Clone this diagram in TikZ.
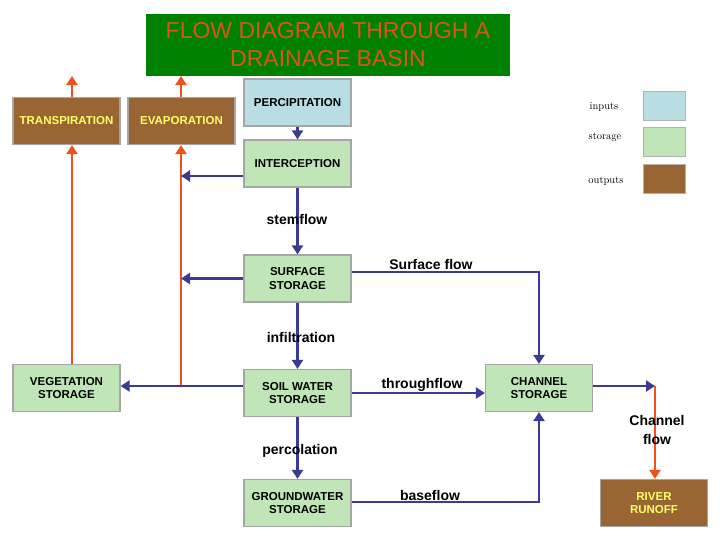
\documentclass[tikz,border=0pt]{standalone}
\usepackage{fontspec}
\setmainfont{Liberation Sans}
\usetikzlibrary{arrows.meta}
\definecolor{brn}{HTML}{996633}
\definecolor{lblue}{HTML}{B8DEE4}
\definecolor{lgreen}{HTML}{C0E6B8}
\definecolor{ttl}{HTML}{008000}
\definecolor{ttltxt}{HTML}{D8561A}
\definecolor{ylw}{HTML}{FFFF66}
\definecolor{blu}{HTML}{3B3B96}
\definecolor{org}{HTML}{F0501E}
\tikzset{
 box/.style={draw=black!35,line width=1.2pt,minimum width=107pt,minimum height=47pt,align=center,font=\bfseries\fontsize{11.5}{13.5}\selectfont,inner sep=1pt},
 inp/.style={box,fill=lblue},
 sto/.style={box,fill=lgreen},
 outp/.style={box,fill=brn,text=ylw},
 ba/.style={draw=blu,line width=2.5pt,-{Triangle[length=9pt,width=11pt]}},
 oa/.style={draw=org,line width=2.5pt,-{Triangle[length=9pt,width=11pt]}},
 lbl/.style={font=\bfseries\fontsize{14}{16}\selectfont},
 leg/.style={font=\fontfamily{lmr}\fontsize{10.5}{12}\selectfont}
}
\begin{document}
\begin{tikzpicture}[x=1pt,y=-1pt]
\useasboundingbox (0,0) rectangle (728,546);
\node[fill=ttl,minimum width=364pt,minimum height=62pt,align=center,text=ttltxt,font=\fontsize{23}{28}\selectfont] (title) at (328,45) {FLOW DIAGRAM THROUGH A\\DRAINAGE BASIN};
\node[outp] (tr) at (66.5,121) {TRANSPIRATION};
\node[outp] (ev) at (181.5,121) {EVAPORATION};
\node[inp] (pe) at (297.5,102.5) {PERCIPITATION};
\node[sto] (in) at (297.5,163.5) {INTERCEPTION};
\node[sto] (su) at (297.5,278.5) {SURFACE\\STORAGE};
\node[sto] (so) at (297.5,393) {SOIL WATER\\STORAGE};
\node[sto] (gw) at (297.5,503) {GROUNDWATER\\STORAGE};
\node[sto] (ve) at (66.5,388) {VEGETATION\\STORAGE};
\node[sto] (ch) at (539,388) {CHANNEL\\STORAGE};
\node[outp] (ri) at (654,503) {RIVER\\RUNOFF};
\node[fill=lblue,draw=black!30,minimum width=42pt,minimum height=29pt] (l1) at (664,105.5) {};
\node[fill=lgreen,draw=black!30,minimum width=42pt,minimum height=29pt] (l2) at (664,142) {};
\node[fill=brn,draw=black!30,minimum width=42pt,minimum height=29pt] (l3) at (664,178.5) {};
\node[leg] (t1) at (604,107) {inputs};
\node[leg] (t2) at (605,137) {storage};
\node[leg] (t3) at (606,181) {outputs};
\coordinate (trtop) at (72,76);
\coordinate (evtop) at (181,76);
\coordinate (evx) at (181,386);
\draw[oa] (72,97) -- (trtop);
\draw[oa] (181,97) -- (evtop);
\draw[oa] (ve.north -| 72,0) -- (tr.south -| 72,0);
\draw[oa] (evx) -- (ev.south -| evx);
\draw[ba] (pe) -- (in);
\draw[ba] (in.south) -- (su.north);
\draw[ba] (su.south) -- (so.north);
\draw[ba] (so.south) -- (gw.north);
\draw[ba] (in.west |- 0,176) -- (181,176);
\draw[ba] (su.west) -- (181,278.5);
\draw[ba] (so.west |- 0,386) -- (ve.east |- 0,386);
\draw[ba] (so.east |- 0,393) -- (ch.west |- 0,393);
\draw[ba] (su.east |- 0,272) -| (ch.north);
\draw[ba] (gw.east |- 0,502) -| (ch.south);
\coordinate (cc) at (655,386);
\draw[ba] (ch.east |- cc) -- (cc);
\draw[oa] (cc) -- (ri.north -| cc);
\node[lbl] (s1) at (297,219) {stemflow};
\node[lbl] (s2) at (301,337) {infiltration};
\node[lbl] (s3) at (300,451) {percolation};
\node[lbl] (s4) at (431,264) {Surface flow};
\node[lbl] (s5) at (422,385) {throughflow};
\node[lbl] (s6) at (430,495) {baseflow};
\node[lbl,align=center] (s7) at (657,430) {Channel\\[3pt]flow};
\end{tikzpicture}
\end{document}
